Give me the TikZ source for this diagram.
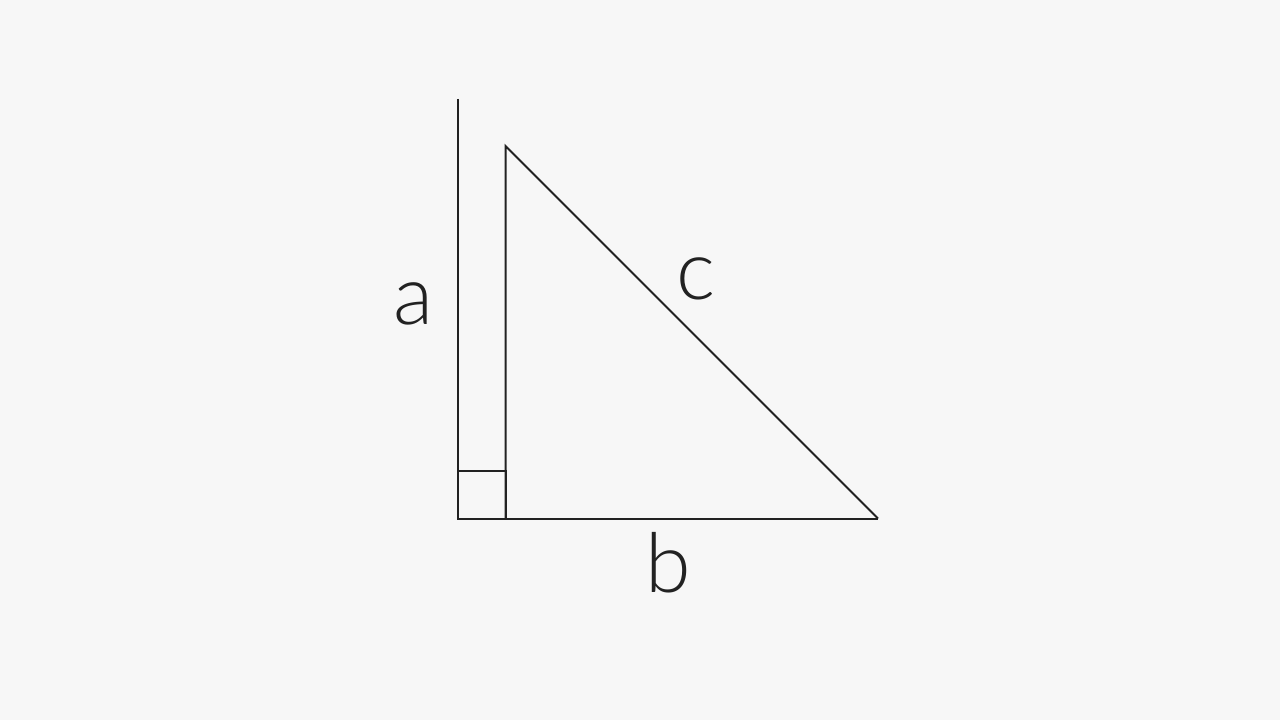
\documentclass[tikz,border=0pt]{standalone}
\usepackage{fontspec}
\setmainfont{Lato}[UprightFont=* Light]
\definecolor{bgcol}{RGB}{247,247,247}
\definecolor{linecol}{RGB}{34,34,34}
\tikzset{every picture/.style={line width=1.5pt}}
\tikzset{
  side/.style={draw=linecol, line width=1.5pt},
  sidelabel/.style={inner sep=0pt, text=linecol, font=\fontsize{62}{64}\selectfont}
}
\begin{document}
\begin{tikzpicture}[x=0.75pt,y=0.75pt,yscale=-1,xscale=1]
        %Background
        \path [fill=bgcol] (0,0) rectangle (1280,720);

        %Corners
        \coordinate (atop) at (457.5,99);
        \coordinate (origin) at (457.5,518.5);
        \coordinate (apex) at (505.5,146);
        \coordinate (foot) at (505.5,518.5);
        \coordinate (right) at (878,518.5);
        \coordinate (sqtop) at (457.5,470.5);
        \coordinate (sqcorner) at (505.5,470.5);

        %Straight Lines
        \draw [side] (atop) -- (origin) -- (right);
        %Triangle
        \draw [side, line join=miter] (foot) -- (apex) -- (right);
        %Right angle box
        \draw [side] (sqtop) -- (sqcorner) -- (foot);

        % Text Node
        \node [sidelabel] (la) at (413.5,303.5) {a};
        % Text Node
        \node [sidelabel] (lb) at (668.5,563) {b};
        % Text Node
        \node [sidelabel] (lc) at (695.5,278.5) {c};
\end{tikzpicture}
\end{document}
